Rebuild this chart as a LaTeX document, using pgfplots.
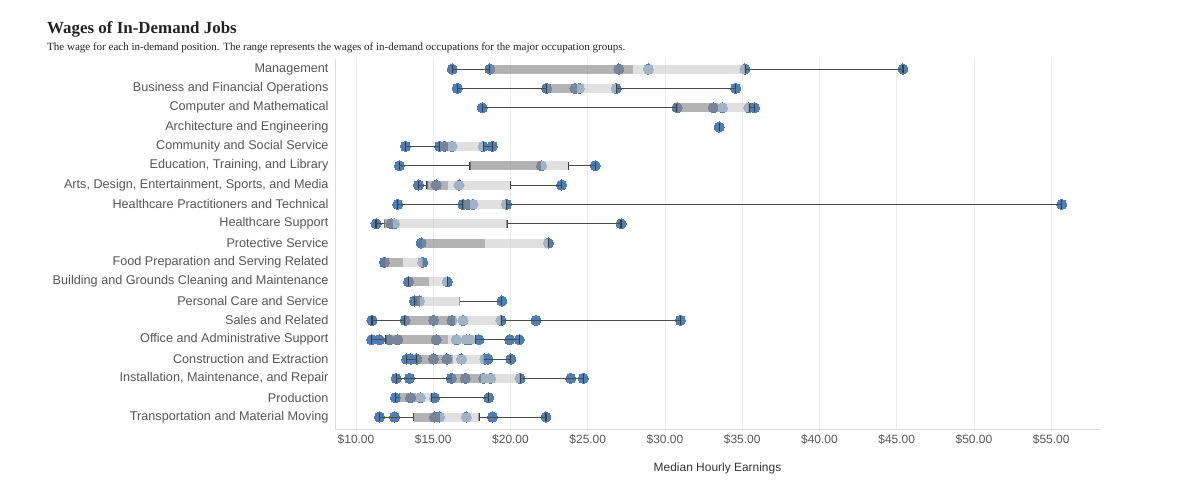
\documentclass[border=0pt]{standalone}
\usepackage{fontspec}
\setmainfont{Liberation Sans}
\newfontfamily\titleserif{Liberation Serif}
\usepackage{pgfplots}
\usepackage{pgfplotstable}
\pgfplotsset{compat=1.18}
\definecolor{dotblue}{HTML}{4E7EB5}
\definecolor{boxdark}{HTML}{8C8A8A}
\definecolor{boxlight}{HTML}{CFCFCF}
\definecolor{whisk}{HTML}{4A4A4A}
\definecolor{capc}{HTML}{3C3C3C}
\definecolor{labgray}{HTML}{555555}
\definecolor{gridc}{HTML}{EBEBEB}
\definecolor{axisc}{HTML}{DCDCDC}
\definecolor{titlec}{HTML}{222222}

\pgfplotstableread{
row lo q1 med q3 hi
0 16.23 18.66 27.92 35.17 45.40
1 16.56 22.34 24.32 26.84 34.57
2 18.18 30.78 33.42 35.43 35.80
3 33.51 33.51 33.51 33.51 33.51
4 13.20 15.41 15.97 18.23 18.83
5 12.81 17.38 21.95 23.74 25.48
6 14.05 14.59 15.97 20.00 23.31
7 12.70 16.92 17.41 19.74 55.68
8 11.30 11.84 12.38 19.78 27.16
9 14.22 14.22 18.33 22.45 22.45
10 11.84 11.84 13.07 14.31 14.31
11 13.40 13.40 14.70 15.91 15.91
12 13.79 13.90 14.11 16.71 19.44
13 11.04 13.18 16.40 19.39 31.00
14 11.01 11.95 15.95 17.73 20.56
15 13.28 13.94 16.25 18.27 20.02
16 12.60 16.17 18.10 20.62 24.71
17 12.55 12.81 13.90 14.87 18.59
18 11.52 13.74 15.41 17.97 22.29
}\boxdata

\pgfplotstableread{
x row
16.23 0
18.66 0
27.01 0
28.92 0
35.17 0
45.40 0
16.56 1
22.34 1
24.18 1
24.46 1
26.84 1
34.57 1
18.18 2
30.78 2
33.12 2
33.72 2
35.43 2
35.80 2
33.51 3
13.20 4
15.41 4
15.74 4
16.21 4
18.23 4
18.83 4
12.81 5
22.01 5
25.48 5
14.05 6
15.19 6
16.67 6
23.31 6
12.70 7
16.92 7
17.25 7
17.57 7
19.74 7
55.68 7
11.30 8
12.27 8
12.49 8
27.16 8
14.22 9
22.45 9
11.84 10
14.31 10
13.40 11
15.91 11
13.79 12
14.11 12
19.44 12
11.04 13
13.18 13
15.02 13
16.21 13
16.93 13
19.39 13
21.65 13
31.00 13
11.01 14
11.51 14
12.16 14
12.70 14
15.19 14
16.49 14
17.14 14
17.36 14
17.96 14
19.95 14
20.56 14
13.28 15
13.55 15
13.94 15
15.02 15
15.88 15
16.82 15
18.33 15
18.55 15
20.02 15
12.60 16
13.46 16
16.17 16
17.08 16
18.27 16
18.72 16
20.62 16
23.90 16
24.71 16
12.55 17
13.53 17
14.16 17
15.08 17
18.59 17
11.52 18
12.49 18
15.09 18
15.41 18
17.14 18
18.83 18
22.29 18
}\dotdata

\begin{document}
\begin{tikzpicture}
\node[anchor=base west, inner sep=0pt, font=\titleserif\bfseries\fontsize{17}{19}\selectfont, text=titlec] at (47bp,-33bp) {Wages of In-Demand Jobs};
\node[anchor=base west, inner sep=0pt, font=\titleserif\fontsize{11.05}{12}\selectfont, text=titlec] at (47bp,-50bp) {The wage for each in-demand position. The range represents the wages of in-demand occupations for the major occupation groups.};
\begin{axis}[
  set layers,
  at={(335bp,-59bp)}, anchor=north west,
  width=765bp, height=370bp, scale only axis,
  xmin=8.64, xmax=58.16, ymin=-0.62, ymax=18.52,
  axis x line*=bottom, axis y line*=left,
  axis line style={draw=axisc, line width=0.8bp, -},
  xtick={10,15,...,55},
  xticklabels={\$10.00,\$15.00,\$20.00,\$25.00,\$30.00,\$35.00,\$40.00,\$45.00,\$50.00,\$55.00},
  ytick={0,...,18},
  yticklabels={Transportation and Material Moving, Production, {Installation, Maintenance, and Repair}, Construction and Extraction, Office and Administrative Support, Sales and Related, Personal Care and Service, Building and Grounds Cleaning and Maintenance, Food Preparation and Serving Related, Protective Service, Healthcare Support, Healthcare Practitioners and Technical, {Arts, Design, Entertainment, Sports, and Media}, {Education, Training, and Library}, Community and Social Service, Architecture and Engineering, Computer and Mathematical, Business and Financial Operations, Management},
  major tick length=0pt,
  tick label style={font=\fontsize{12.7}{14}\selectfont, text=labgray},
  xticklabel style={yshift=-2bp, font=\fontsize{12}{14}\selectfont},
  yticklabel style={xshift=-3bp},
  xmajorgrids, major grid style={draw=gridc, line width=0.8bp},
  xlabel={Median Hourly Earnings},
  xlabel style={font=\fontsize{12}{14}\selectfont, text=black!80, yshift=-12bp},
  clip=false,
]
% dots
\addplot[draw=none, only marks, mark=*, mark size=5.1bp, mark options={draw=dotblue, fill=dotblue, line width=0pt}]
  table[x=x, y expr=18-\thisrow{row}] {\dotdata};
% dark box (q1 to median)
\addplot[on layer=axis foreground, draw=none, mark=none, forget plot,
  error bars/.cd, x dir=plus, x explicit, error mark=none,
  error bar style={line width=9bp, draw=boxdark, draw opacity=0.65}]
  table[x=q1, y expr=18-\thisrow{row}, x error expr=\thisrow{med}-\thisrow{q1}] {\boxdata};
% light box (median to q3)
\addplot[on layer=axis foreground, draw=none, mark=none, forget plot,
  error bars/.cd, x dir=plus, x explicit, error mark=none,
  error bar style={line width=9bp, draw=boxlight, draw opacity=0.65}]
  table[x=med, y expr=18-\thisrow{row}, x error expr=\thisrow{q3}-\thisrow{med}] {\boxdata};
% lower whisker
\addplot[on layer=axis foreground, draw=none, mark=none, forget plot,
  error bars/.cd, x dir=minus, x explicit, error mark=none,
  error bar style={line width=0.9bp, draw=whisk}]
  table[x=q1, y expr=18-\thisrow{row}, x error expr=\thisrow{q1}-\thisrow{lo}] {\boxdata};
% upper whisker
\addplot[on layer=axis foreground, draw=none, mark=none, forget plot,
  error bars/.cd, x dir=plus, x explicit, error mark=none,
  error bar style={line width=0.9bp, draw=whisk}]
  table[x=q3, y expr=18-\thisrow{row}, x error expr=\thisrow{hi}-\thisrow{q3}] {\boxdata};
% caps
\addplot[on layer=axis foreground, draw=none, only marks, mark=|, mark size=4.2bp, mark options={line width=1.3bp, draw=capc}]
  table[x=lo, y expr=18-\thisrow{row}] {\boxdata};
\addplot[on layer=axis foreground, draw=none, only marks, mark=|, mark size=4.2bp, mark options={line width=1.3bp, draw=capc}]
  table[x=q1, y expr=18-\thisrow{row}] {\boxdata};
\addplot[on layer=axis foreground, draw=none, only marks, mark=|, mark size=4.2bp, mark options={line width=1.3bp, draw=capc}]
  table[x=q3, y expr=18-\thisrow{row}] {\boxdata};
\addplot[on layer=axis foreground, draw=none, only marks, mark=|, mark size=4.2bp, mark options={line width=1.3bp, draw=capc}]
  table[x=hi, y expr=18-\thisrow{row}] {\boxdata};
\end{axis}
\pgfresetboundingbox
\path[use as bounding box] (0,0) rectangle (1179bp,-491bp);
\end{tikzpicture}
\end{document}
